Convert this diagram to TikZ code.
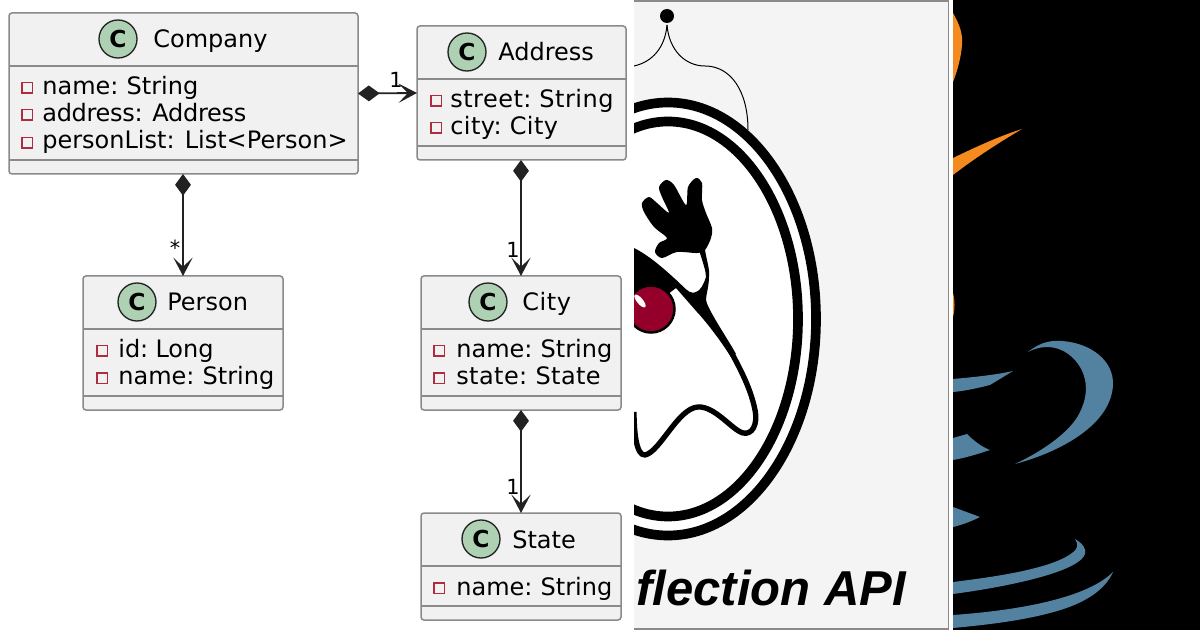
\documentclass[tikz,border=0pt]{standalone}
\usepackage{fontspec}
\setmainfont{DejaVu Sans}
\newfontfamily\lib{Liberation Sans}
\usetikzlibrary{arrows.meta}
\def\u{0.6pt}
\definecolor{boxfill}{HTML}{F1F1F1}
\definecolor{boxline}{HTML}{8A8A8A}
\definecolor{ink}{HTML}{222222}
\definecolor{spot}{HTML}{ADD1B2}
\definecolor{attr}{HTML}{B02A40}
\definecolor{panel}{HTML}{F4F4F4}
\definecolor{orangej}{HTML}{F58A1F}
\definecolor{bluej}{HTML}{5382A1}
\definecolor{eye}{HTML}{95002B}
\tikzset{
  x=0.6pt,y=-0.6pt,
  cls/.style={draw=boxline,fill=boxfill,line width=0.9pt,rounded corners=1.8pt,inner sep=0pt,outer sep=0pt},
  sep/.style={draw=boxline,line width=0.9pt},
  spotc/.style={circle,draw=ink,fill=spot,line width=0.8pt,minimum size=22.8pt,inner sep=0pt,font=\fontsize{14}{14}\selectfont\bfseries,text=black},
  title/.style={anchor=base west,inner sep=0pt,font=\fontsize{14.4}{14.4}\selectfont,text=black},
  member/.style={anchor=base west,inner sep=0pt,font=\fontsize{14.4}{14.4}\selectfont,text=black},
  priv/.style={rectangle,draw=attr,fill=boxfill,line width=1pt,minimum size=6.4pt,inner sep=0pt},
  rel/.style={draw=ink,fill=ink,line width=1.1pt,{Diamond[length=13pt,width=9.5pt]}-{Stealth[length=11pt,width=11.5pt,inset=5.5pt]}},
  card/.style={inner sep=0pt,font=\fontsize{12.5}{12.5}\selectfont,text=black},
  ringl/.style={draw=black,line width=5.8pt},
  logoo/.style={fill=orangej,draw=none},
  logob/.style={fill=bluej,draw=none}
}
\begin{document}
\begin{tikzpicture}
\useasboundingbox (0,0) rectangle (1200,630);
\fill[white] (0,0) rectangle (1200,630);

% right-hand black image
\fill[black] (953,0) rectangle (1200,630);
\fill[logoo] (953,13) .. controls (960,25) and (963,35) .. (962,45) .. controls (961,58) and (957,72) .. (953,82) -- cycle;
\fill[logoo] (953,158) .. controls (980,145) and (1000,136) .. (1022,129) .. controls (1000,142) and (975,158) .. (953,175) -- cycle;
\fill[logoo] (953,293) .. controls (955,300) and (955,310) .. (953,317) -- cycle;
\fill[logob] (1028,352) .. controls (1040,342) and (1052,340) .. (1062,341) .. controls (1090,343) and (1114,360) .. (1113,385) .. controls (1111,425) and (1060,452) .. (1015,464) .. controls (1045,450) and (1072,430) .. (1080,412) .. controls (1090,392) and (1087,372) .. (1073,358) .. controls (1062,347) and (1045,343) .. (1028,352) -- cycle;
\fill[logob] (953,379) .. controls (975,377) and (995,375) .. (1013,371) -- (990,385) .. controls (978,388) and (965,391) .. (953,392) -- cycle;
\fill[logob] (953,438) -- (967,434) .. controls (974,441) and (982,447) .. (990,450) .. controls (978,454) and (965,458) .. (953,460) -- cycle;
\fill[logob] (953,507) -- (980,517) .. controls (972,521) and (962,525) .. (953,527) -- cycle;
\fill[logob] (953,582) .. controls (985,578) and (1050,570) .. (1072,553) .. controls (1079,548) and (1078,544) .. (1075,539) .. controls (1082,543) and (1087,549) .. (1085,554) .. controls (1080,570) and (1020,585) .. (953,594) -- cycle;
\fill[logob] (953,615) .. controls (1010,611) and (1085,600) .. (1113,572) .. controls (1105,590) and (1085,604) .. (1050,613) .. controls (1020,621) and (985,625) .. (953,628) -- cycle;

% middle panel
\fill[panel] (634,0) rectangle (949,630);
\draw[boxline,line width=0.9pt] (634,1) -- (948.5,1) -- (948.5,629) -- (634,629);
\begin{scope}
\clip (634,0) rectangle (947.5,630);
\fill[white] (668,319) ellipse [x radius=152,y radius=220];
\draw[ringl] (668,319) ellipse [x radius=148,y radius=216.5];
\draw[ringl] (668,319) ellipse [x radius=130,y radius=197.5];
% curl above the head
\draw[black,line width=0.6pt] (667,25) .. controls (665,48) and (652,62) .. (634,66);
\draw[black,line width=0.6pt] (667,25) .. controls (669,50) and (685,66) .. (705,66) .. controls (730,66) and (748,90) .. (748,130);
\fill[black] (667,16) circle [radius=7];
% hand
\fill[black] plot[smooth cycle,tension=0.5] coordinates {(696,178) (702,183) (702,200) (706,213) (712,228) (711,238) (705,250) (697,253) (677,252) (662,258) (655,252) (659,243) (667,238) (654,227) (644,212) (642,203) (649,197) (657,203) (669,213) (662,197) (659,187) (666,180) (674,185) (686,205) (688,187)};
% head
\fill[black] (634,248) .. controls (648,255) and (662,267) .. (674,278) .. controls (680,283) and (684,288) .. (687,290) .. controls (690,293) and (694,293) .. (696,292) .. controls (700,291) and (704,284) .. (706,277) .. controls (706,271) and (703,263) .. (699,250) -- (705,250) .. controls (707,262) and (710,270) .. (709,277) .. controls (709,286) and (706,295) .. (706,300) .. controls (707,304) and (708,306) .. (709,308) .. controls (716,322) and (727,338) .. (736,354) -- (731,357) .. controls (724,346) and (710,326) .. (697,312) -- (676,288) -- (660,300) -- (634,300) -- cycle;
% body outline
\draw[black,line width=3.2pt,line join=round] (730,350) .. controls (742,372) and (751,390) .. (755,410) .. controls (758,425) and (752,435) .. (743,433) .. controls (732,430) and (715,406) .. (698,407) .. controls (678,408) and (660,452) .. (645,455) .. controls (636,456) and (634,430) .. (634,412);
% eye
\fill[eye,draw=black,line width=1.5pt] (651,309) circle [radius=23.5];
\fill[white,rotate around={-50:(640,301)}] (640,301) ellipse [x radius=8,y radius=3];
\node[anchor=base west,inner sep=0pt,font={\lib\bfseries\itshape\fontsize{29.4}{30}\selectfont},text=black] (apititle) at (636,605) {flection API};
\end{scope}

% classes
\node[cls,minimum width=349*\u,minimum height=161*\u] (company) at (183.5,93.5) {};
\node[cls,minimum width=209*\u,minimum height=134*\u] (address) at (521.5,93) {};
\node[cls,minimum width=200*\u,minimum height=134*\u] (person) at (183,343) {};
\node[cls,minimum width=200*\u,minimum height=134*\u] (city) at (521,343) {};
\node[cls,minimum width=200*\u,minimum height=107*\u] (state) at (521,566.5) {};

\draw[sep] (company.west |- 0,66) -- (company.east |- 0,66);
\draw[sep] (company.west |- 0,160) -- (company.east |- 0,160);
\draw[sep] (address.west |- 0,79) -- (address.east |- 0,79);
\draw[sep] (address.west |- 0,146) -- (address.east |- 0,146);
\draw[sep] (person.west |- 0,329) -- (person.east |- 0,329);
\draw[sep] (person.west |- 0,396) -- (person.east |- 0,396);
\draw[sep] (city.west |- 0,329) -- (city.east |- 0,329);
\draw[sep] (city.west |- 0,396) -- (city.east |- 0,396);
\draw[sep] (state.west |- 0,566) -- (state.east |- 0,566);
\draw[sep] (state.west |- 0,606) -- (state.east |- 0,606);

\node[spotc] (cCompany) at (118,39) {C};
\node[title] (tCompany) at (153,48) {Company};
\node[spotc] (cAddress) at (467,52) {C};
\node[title] (tAddress) at (498,61) {Address};
\node[spotc] (cPerson) at (137,302) {C};
\node[title] (tPerson) at (167,311) {Person};
\node[spotc] (cCity) at (488,302) {C};
\node[title] (tCity) at (522,311) {\addfontfeature{LetterSpace=2.5}City};
\node[spotc] (cState) at (481,539) {C};
\node[title] (tState) at (512,548) {State};

\node[priv] (p1) at (27,88) {};
\node[member] (m1) at (42,95) {\spaceskip=3.4pt name: String};
\node[priv] (p2) at (27,115) {};
\node[member] (m2) at (42,122) {\addfontfeature{LetterSpace=-1.2}address: Address};
\node[priv] (p3) at (27,143) {};
\node[member] (m3) at (42,149) {personList: List<Person>};
\node[priv] (p4) at (436,101) {};
\node[member] (m4) at (450,108) {\addfontfeature{LetterSpace=2}\spaceskip=3.2pt street: String};
\node[priv] (p5) at (436,128) {};
\node[member] (m5) at (450,135) {\addfontfeature{LetterSpace=1.7}\spaceskip=3.2pt city: City};
\node[priv] (p6) at (102,351) {};
\node[member] (m6) at (118,358) {\spaceskip=2.8pt id: Long};
\node[priv] (p7) at (102,378) {};
\node[member] (m7) at (118,385) {\spaceskip=3.4pt name: String};
\node[priv] (p8) at (439,351) {};
\node[member] (m8) at (456,358) {\spaceskip=3.4pt name: String};
\node[priv] (p9) at (439,378) {};
\node[member] (m9) at (456,385) {\addfontfeature{LetterSpace=1.7}\spaceskip=3.4pt state: State};
\node[priv] (p10) at (439,588) {};
\node[member] (m10) at (456,595) {\spaceskip=3.4pt name: String};

% connectors
\draw[rel] (company.east) -- (address.west);
\draw[rel] (company.south -| person.north) -- (person.north);
\draw[rel] (address.south -| city.north) -- (city.north);
\draw[rel] (city.south) -- (state.north);

\node[card] (l1) at (396,80) {1};
\node[card] (l2) at (175,248) {*};
\node[card] (l3) at (513,250) {1};
\node[card] (l4) at (513,487) {1};
\end{tikzpicture}
\end{document}
